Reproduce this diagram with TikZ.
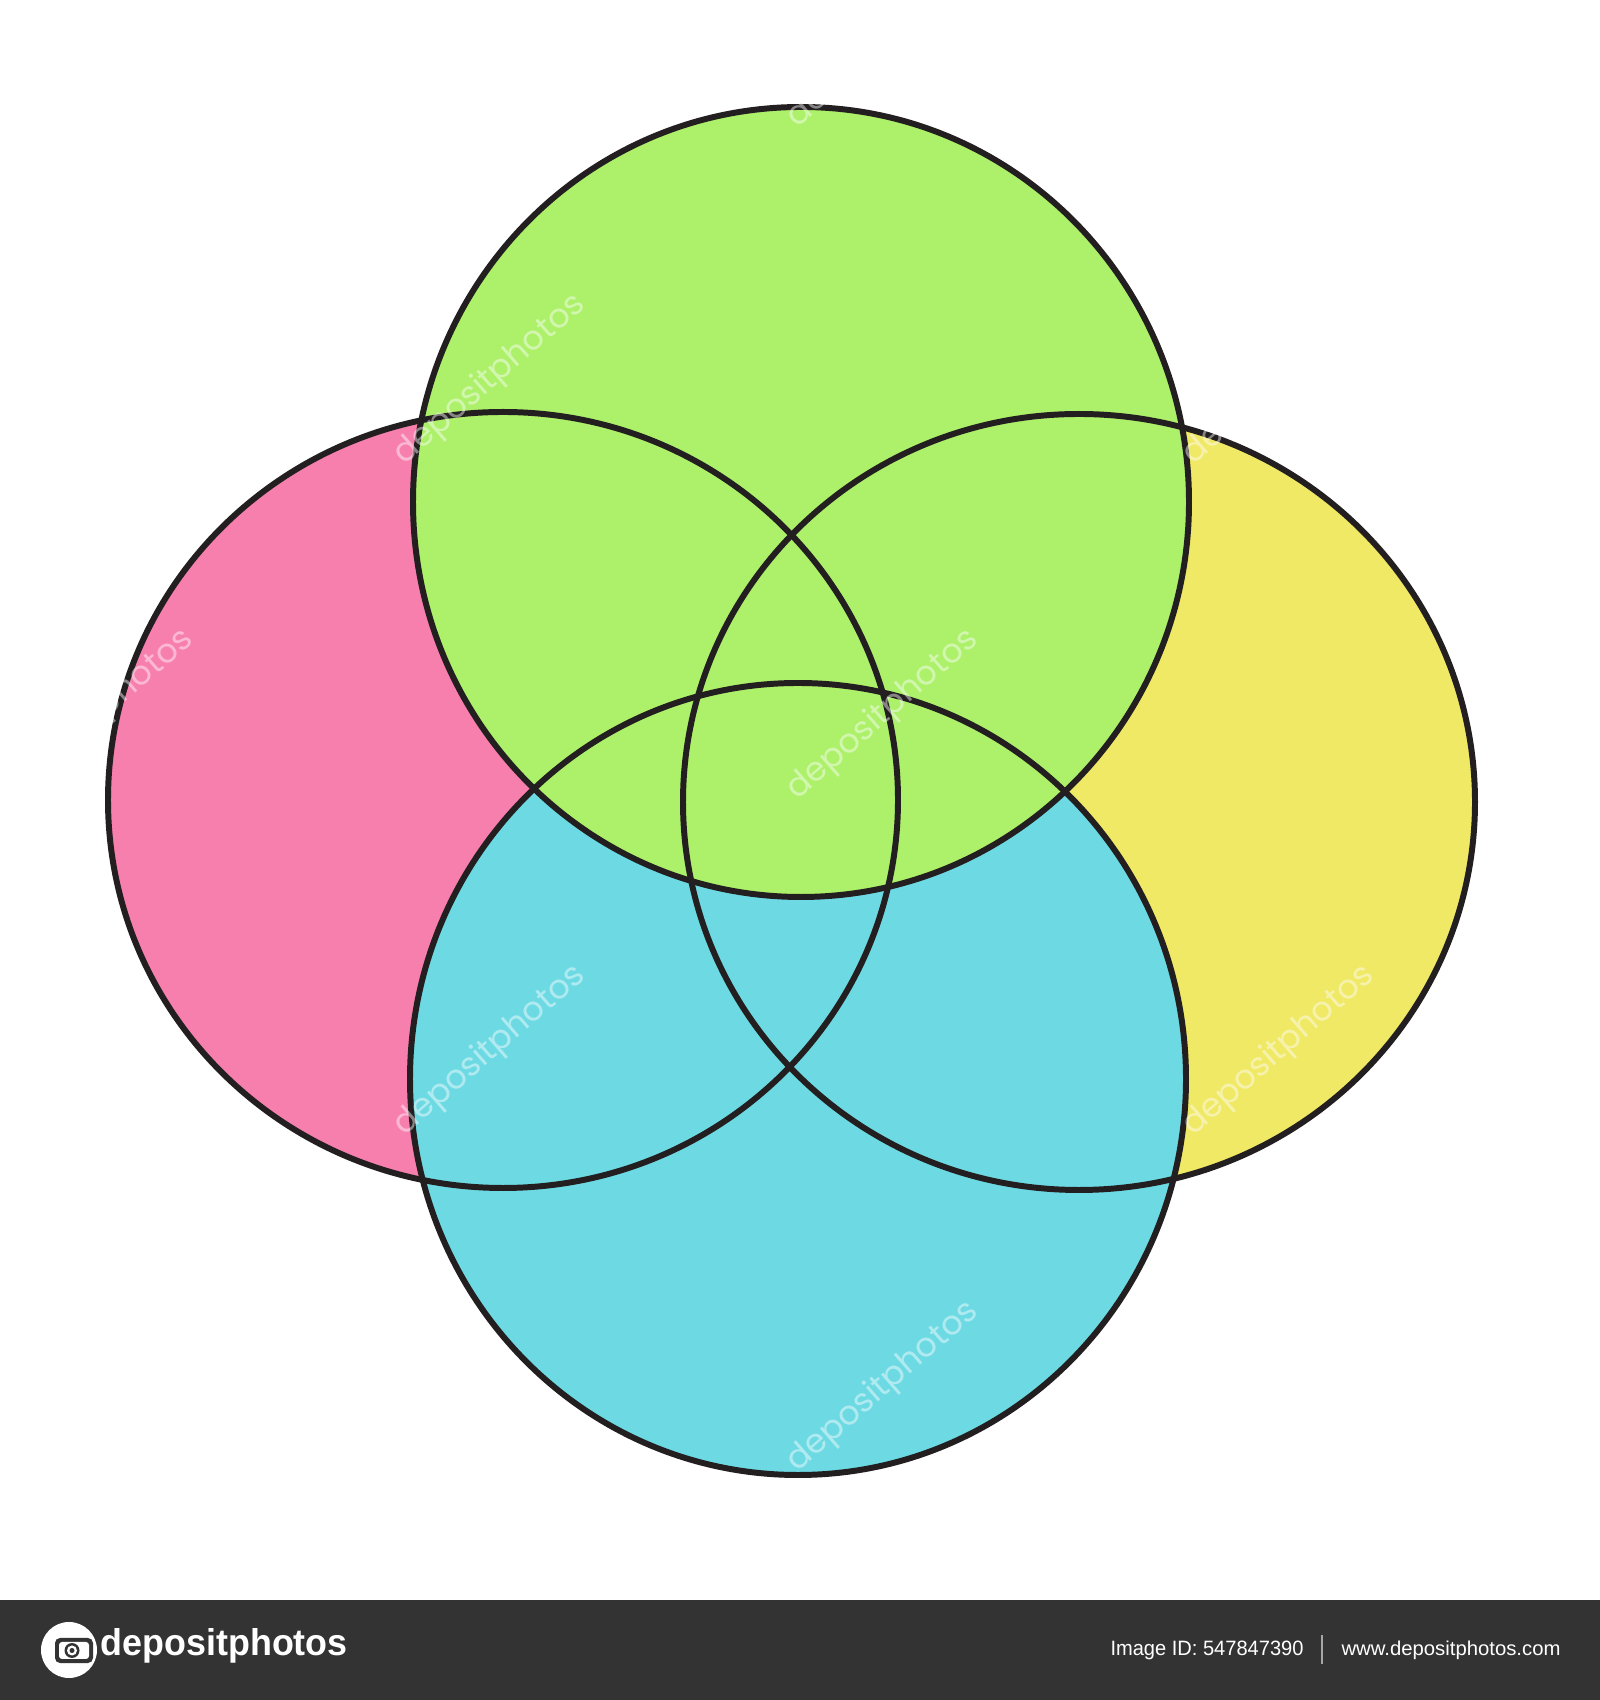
\documentclass[tikz,border=0pt]{standalone}
\usepackage{fontspec}
\setmainfont{Liberation Sans}
\newfontfamily\wmfont{Poppins}
\begin{document}
\begin{tikzpicture}[x=1cm,y=1cm]
\definecolor{cgreen}{HTML}{ADF06A}
\definecolor{cpink}{HTML}{F77FAE}
\definecolor{cyellow}{HTML}{F0E966}
\definecolor{ccyan}{HTML}{6DDAE3}
\definecolor{cline}{HTML}{231F20}
\definecolor{cbar}{HTML}{333333}
\tikzset{
  outline/.style={draw=cline, line width=1.7pt},
  wm/.style={font=\wmfont\fontsize{9.5pt}{10pt}\selectfont, text=white, text opacity=0.45, rotate=41, inner sep=0pt},
  bartext/.style={text=white, inner sep=0pt},
}
\useasboundingbox (0,0) rectangle (16,17);
\fill[white] (0,0) rectangle (16,17);
% fills
\fill[cpink] (5.03,9.00) ellipse [x radius=3.95, y radius=3.88];
\fill[cyellow] (10.79,8.98) ellipse [x radius=3.96, y radius=3.88];
\fill[ccyan] (7.98,6.21) ellipse [x radius=3.88, y radius=3.96];
\fill[cgreen] (8.01,11.98) ellipse [x radius=3.88, y radius=3.95];
% outlines
\draw[outline] (5.03,9.00) ellipse [x radius=3.95, y radius=3.88];
\draw[outline] (10.79,8.98) ellipse [x radius=3.96, y radius=3.88];
\draw[outline] (7.98,6.21) ellipse [x radius=3.88, y radius=3.96];
\draw[outline] (8.01,11.98) ellipse [x radius=3.88, y radius=3.95];
% watermarks
\node[wm] (w1) at (4.90,13.20) {depositphotos};
\node[wm] (w2) at (8.83,9.85) {depositphotos};
\node[wm] (w3) at (4.90,6.49) {depositphotos};
\node[wm] (w4) at (8.83,3.13) {depositphotos};
\node[wm] (w5) at (12.79,13.20) {depositphotos};
\node[wm] (w6) at (12.79,6.49) {depositphotos};
\node[wm] (w7) at (0.98,9.85) {depositphotos};
\node[wm] (w8) at (0.98,3.13) {depositphotos};
\node[wm] (w9) at (8.83,16.57) {depositphotos};
\node[wm] (w10) at (0.98,16.57) {depositphotos};
\node[wm] (w11) at (14.94,1.69) {depositphotos};
% bottom bar
\fill[cbar] (0,0) rectangle (16,1.0);
\fill[white] (0.69,0.50) circle (0.28);
\fill[cbar, rounded corners=0.05cm] (0.55,0.37) rectangle (0.93,0.62);
\fill[white, rounded corners=0.03cm] (0.59,0.41) rectangle (0.89,0.58);
\fill[cbar] (0.72,0.495) circle (0.075);
\fill[white] (0.72,0.495) circle (0.05);
\fill[cbar] (0.72,0.495) circle (0.025);
\node[bartext, anchor=base west] (logo) at (1.00,0.44) {\resizebox{2.47cm}{0.27cm}{\bfseries depositphotos}};
\node[bartext, anchor=base] (imgid) at (12.07,0.445) {\resizebox{1.93cm}{0.145cm}{Image ID: 547847390}};
\coordinate (sepa) at (13.22,0.36);
\coordinate (sepb) at (13.22,0.65);
\draw[gray!70, line width=0.3pt] (sepa) -- (sepb);
\node[bartext, anchor=base] (url) at (14.51,0.445) {\resizebox{2.19cm}{0.145cm}{www.depositphotos.com}};
\end{tikzpicture}
\end{document}
